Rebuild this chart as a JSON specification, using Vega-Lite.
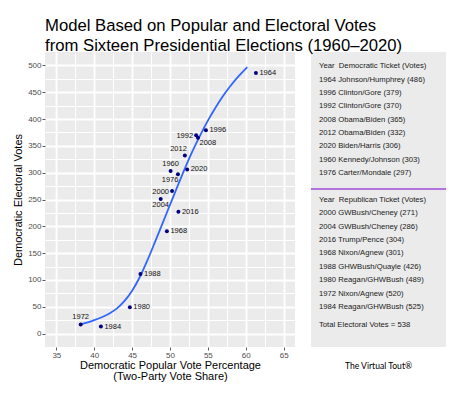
{
  "$schema": "https://vega.github.io/schema/vega-lite/v6.json",
  "background": "white",
  "padding": {"left": 12, "top": 18, "right": 5, "bottom": 5},
  "title": {
    "text": ["Model Based on Popular and Electoral Votes", "from Sixteen Presidential Elections (1960–2020)"],
    "anchor": "start",
    "frame": "group",
    "font": "Liberation Sans",
    "fontSize": 16.7,
    "fontWeight": "normal",
    "color": "#000000",
    "lineHeight": 20,
    "offset": -3,
    "dx": 0
  },
  "config": {"view": {"stroke": null}, "font": "Liberation Sans"},
  "spacing": 15,
  "datasets": {
    "curve": [
      {"pct": 38.2, "ev": 17}, {"pct": 40, "ev": 25}, {"pct": 41, "ev": 30.5}, {"pct": 42, "ev": 37.5},
      {"pct": 43, "ev": 47}, {"pct": 44, "ev": 61}, {"pct": 45, "ev": 80}, {"pct": 46, "ev": 105},
      {"pct": 47, "ev": 136}, {"pct": 48, "ev": 170}, {"pct": 49, "ev": 205}, {"pct": 50, "ev": 240},
      {"pct": 51, "ev": 275}, {"pct": 52, "ev": 309}, {"pct": 53, "ev": 341}, {"pct": 54, "ev": 370},
      {"pct": 55, "ev": 397}, {"pct": 56, "ev": 421}, {"pct": 57, "ev": 443}, {"pct": 58, "ev": 462},
      {"pct": 59, "ev": 479}, {"pct": 60.2, "ev": 497}
    ],
    "elections": [
      {"year": 1960, "pct": 50.08, "ev": 303},
      {"year": 1964, "pct": 61.34, "ev": 486},
      {"year": 1968, "pct": 49.59, "ev": 191},
      {"year": 1972, "pct": 38.21, "ev": 17},
      {"year": 1976, "pct": 51.05, "ev": 297},
      {"year": 1980, "pct": 44.7, "ev": 49},
      {"year": 1984, "pct": 40.88, "ev": 13},
      {"year": 1988, "pct": 46.1, "ev": 111},
      {"year": 1992, "pct": 53.45, "ev": 370},
      {"year": 1996, "pct": 54.74, "ev": 379},
      {"year": 2000, "pct": 50.27, "ev": 266},
      {"year": 2004, "pct": 48.77, "ev": 251},
      {"year": 2008, "pct": 53.69, "ev": 365},
      {"year": 2012, "pct": 51.96, "ev": 332},
      {"year": 2016, "pct": 51.11, "ev": 227},
      {"year": 2020, "pct": 52.27, "ev": 306}
    ],
    "tickets": [
      {"rank": 1, "label": "Year\u00a0 Democratic Ticket (Votes)"},
      {"rank": 2, "label": "1964 Johnson/Humphrey (486)"},
      {"rank": 3, "label": "1996 Clinton/Gore (379)"},
      {"rank": 4, "label": "1992 Clinton/Gore (370)"},
      {"rank": 5, "label": "2008 Obama/Biden (365)"},
      {"rank": 6, "label": "2012 Obama/Biden (332)"},
      {"rank": 7, "label": "2020 Biden/Harris (306)"},
      {"rank": 8, "label": "1960 Kennedy/Johnson (303)"},
      {"rank": 9, "label": "1976 Carter/Mondale (297)"},
      {"rank": 11, "label": "Year\u00a0 Republican Ticket (Votes)"},
      {"rank": 12, "label": "2000 GWBush/Cheney (271)"},
      {"rank": 13, "label": "2004 GWBush/Cheney (286)"},
      {"rank": 14, "label": "2016 Trump/Pence (304)"},
      {"rank": 15, "label": "1968 Nixon/Agnew (301)"},
      {"rank": 16, "label": "1988 GHWBush/Quayle (426)"},
      {"rank": 17, "label": "1980 Reagan/GHWBush (489)"},
      {"rank": 18, "label": "1972 Nixon/Agnew (520)"},
      {"rank": 19, "label": "1984 Reagan/GHWBush (525)"},
      {"rank": 20, "label": "Total Electoral Votes = 538"}
    ]
  },
  "hconcat": [
    {
      "width": 250,
      "height": 295,
      "view": {"fill": "#EBEBEB", "stroke": null},
      "encoding": {
        "x": {
          "field": "pct",
          "type": "quantitative",
          "scale": {"domain": [33.5, 66.5], "nice": false, "zero": false},
          "axis": {
            "values": [35, 37.5, 40, 42.5, 45, 47.5, 50, 52.5, 55, 57.5, 60, 62.5, 65],
            "labelExpr": "datum.value % 5 === 0 ? datum.label : ''",
            "grid": true,
            "gridColor": "#FFFFFF",
            "gridWidth": {"condition": {"test": "datum.value % 5 === 0", "value": 1.8}, "value": 1},
            "gridOpacity": 1,
            "tickOpacity": {"condition": {"test": "datum.value % 5 === 0", "value": 1}, "value": 0},
            "tickSize": 3,
            "tickColor": "#333333",
            "tickWidth": 0.8,
            "domain": false,
            "labelFont": "Liberation Sans",
            "labelFontSize": 8,
            "labelColor": "#4D4D4D",
            "labelPadding": 1,
            "labelOverlap": false,
            "labelFlush": false,
            "title": ["Democratic Popular Vote Percentage", "(Two-Party Vote Share)"],
            "titleFont": "Liberation Sans",
            "titleFontSize": 11,
            "titleFontWeight": "normal",
            "titleColor": "#000000",
            "titleLineHeight": 11.5,
            "titlePadding": 0
          }
        },
        "y": {
          "field": "ev",
          "type": "quantitative",
          "scale": {"domain": [-25, 525], "nice": false, "zero": false},
          "axis": {
            "values": [0, 25, 50, 75, 100, 125, 150, 175, 200, 225, 250, 275, 300, 325, 350, 375, 400, 425, 450, 475, 500],
            "labelExpr": "datum.value % 50 === 0 ? datum.label : ''",
            "grid": true,
            "gridColor": "#FFFFFF",
            "gridWidth": {"condition": {"test": "datum.value % 50 === 0", "value": 1.8}, "value": 1},
            "gridOpacity": 1,
            "tickOpacity": {"condition": {"test": "datum.value % 50 === 0", "value": 1}, "value": 0},
            "tickSize": 3,
            "tickColor": "#333333",
            "tickWidth": 0.8,
            "domain": false,
            "labelFont": "Liberation Sans",
            "labelFontSize": 8,
            "labelColor": "#4D4D4D",
            "labelPadding": 1,
            "labelOverlap": false,
            "labelFlush": false,
            "title": "Democratic Electoral Votes",
            "titleFont": "Liberation Sans",
            "titleFontSize": 11,
            "titleFontWeight": "normal",
            "titleColor": "#000000",
            "titlePadding": 4
          }
        }
      },
      "layer": [
        {
          "data": {"values": [{}]},
          "mark": {"type": "rule", "color": "#A04CD8", "strokeWidth": 1.3},
          "encoding": {"x": null, "y": {"datum": 270, "type": "quantitative"}}
        },
        {
          "data": {"values": [{}]},
          "mark": {"type": "text", "text": "270 votes to win", "align": "left", "baseline": "middle", "font": "Liberation Sans", "fontSize": 7.8, "color": "#A04CD8"},
          "encoding": {"x": {"datum": 34.25, "type": "quantitative"}, "y": {"datum": 283, "type": "quantitative"}}
        },
        {
          "data": {"name": "curve"},
          "mark": {"type": "line", "interpolate": "monotone", "color": "#3366FF", "strokeWidth": 1.8}
        },
        {
          "data": {"name": "elections"},
          "mark": {"type": "circle", "size": 16, "color": "#000080", "opacity": 1}
        },
        {
          "data": {"name": "elections"},
          "transform": [{"filter": {"field": "year", "oneOf": [1964, 1996, 2020, 2016, 1968, 1988, 1980, 1984]}}],
          "mark": {"type": "text", "align": "left", "baseline": "middle", "dx": 3.5, "font": "Liberation Sans", "fontSize": 7.5, "color": "#111111"},
          "encoding": {"text": {"field": "year", "type": "nominal"}}
        },
        {
          "data": {"name": "elections"},
          "transform": [{"filter": {"field": "year", "oneOf": [2008]}}],
          "mark": {"type": "text", "align": "left", "baseline": "middle", "dx": 1.5, "dy": 5.5, "font": "Liberation Sans", "fontSize": 7.5, "color": "#111111"},
          "encoding": {"text": {"field": "year", "type": "nominal"}}
        },
        {
          "data": {"name": "elections"},
          "transform": [{"filter": {"field": "year", "oneOf": [1992, 2000]}}],
          "mark": {"type": "text", "align": "right", "baseline": "middle", "dx": -3, "dy": 1, "font": "Liberation Sans", "fontSize": 7.5, "color": "#111111"},
          "encoding": {"text": {"field": "year", "type": "nominal"}}
        },
        {
          "data": {"name": "elections"},
          "transform": [{"filter": {"field": "year", "oneOf": [2012]}}],
          "mark": {"type": "text", "align": "right", "baseline": "middle", "dx": 2, "dy": -6.5, "font": "Liberation Sans", "fontSize": 7.5, "color": "#111111"},
          "encoding": {"text": {"field": "year", "type": "nominal"}}
        },
        {
          "data": {"name": "elections"},
          "transform": [{"filter": {"field": "year", "oneOf": [1960, 1972]}}],
          "mark": {"type": "text", "align": "center", "baseline": "middle", "dy": -7, "font": "Liberation Sans", "fontSize": 7.5, "color": "#111111"},
          "encoding": {"text": {"field": "year", "type": "nominal"}}
        },
        {
          "data": {"name": "elections"},
          "transform": [{"filter": {"field": "year", "oneOf": [1976]}}],
          "mark": {"type": "text", "align": "right", "baseline": "middle", "dx": 0.5, "dy": 5.5, "font": "Liberation Sans", "fontSize": 7.5, "color": "#111111"},
          "encoding": {"text": {"field": "year", "type": "nominal"}}
        },
        {
          "data": {"name": "elections"},
          "transform": [{"filter": {"field": "year", "oneOf": [2004]}}],
          "mark": {"type": "text", "align": "center", "baseline": "middle", "dy": 6, "font": "Liberation Sans", "fontSize": 7.5, "color": "#111111"},
          "encoding": {"text": {"field": "year", "type": "nominal"}}
        }
      ]
    },
    {
      "width": 135,
      "height": 295,
      "view": {"fill": "#EBEBEB", "stroke": null},
      "title": {"text": "The Virtual Tout®", "orient": "bottom", "anchor": "middle", "font": "Lato", "fontSize": 8.6, "fontWeight": "normal", "color": "#000000", "offset": 15},
      "layer": [
        {
          "data": {"name": "tickets"},
          "transform": [{"filter": "datum.rank < 20"}],
          "mark": {"type": "text", "align": "left", "baseline": "middle", "dx": 8, "font": "Liberation Sans", "fontSize": 7.7, "color": "#1A1A1A"},
          "encoding": {
            "x": {"datum": 0, "type": "quantitative", "scale": {"domain": [0, 1], "nice": false, "zero": false}, "axis": null},
            "y": {"field": "rank", "type": "quantitative", "scale": {"domain": [-0.067, 22], "reverse": true, "nice": false, "zero": false}, "axis": null},
            "text": {"field": "label", "type": "nominal"}
          }
        },
        {
          "data": {"name": "tickets"},
          "transform": [{"filter": "datum.rank >= 20"}],
          "mark": {"type": "text", "align": "left", "baseline": "middle", "dx": 8, "dy": 4.7, "font": "Liberation Sans", "fontSize": 7.7, "color": "#1A1A1A"},
          "encoding": {
            "x": {"datum": 0, "type": "quantitative"},
            "y": {"field": "rank", "type": "quantitative"},
            "text": {"field": "label", "type": "nominal"}
          }
        },
        {
          "data": {"values": [{}]},
          "mark": {"type": "rule", "color": "#A04CD8", "strokeWidth": 1.3},
          "encoding": {"y": {"datum": 10.18, "type": "quantitative"}}
        }
      ]
    }
  ]
}
